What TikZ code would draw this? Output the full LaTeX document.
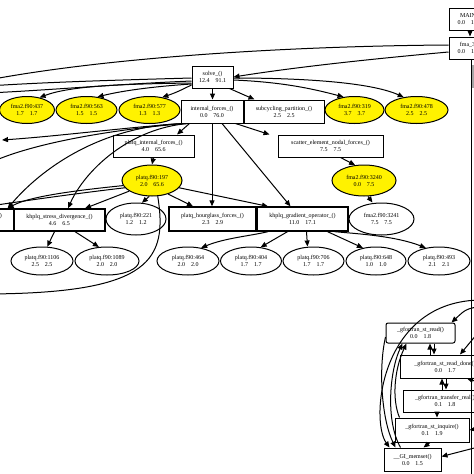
\documentclass[tikz,border=0pt]{standalone}
\usepackage{fontspec}
\setmainfont{Liberation Serif}
\usetikzlibrary{shapes.geometric, arrows.meta}

\begin{document}
\begin{tikzpicture}[
    x=1pt, y=-1pt,
    fn/.style={rectangle, draw=black, line width=1pt, fill=white, inner sep=0pt,
               minimum width=#1, minimum height=22pt, align=center,
               font=\fontsize{6}{7}\selectfont},
    hot/.style={ellipse, draw=black, line width=1pt, fill=yellow, inner sep=0pt,
               minimum width=#1, minimum height=27pt, align=center,
               font=\fontsize{6}{7}\selectfont},
    leaf/.style={ellipse, draw=black, line width=1pt, fill=white, inner sep=0pt,
               minimum width=#1, minimum height=28pt, align=center,
               font=\fontsize{6}{7}\selectfont},
    arr/.style={-{Triangle[length=6pt,width=5pt]}, line width=1pt},
]
\useasboundingbox (0,0) rectangle (474,474);
\clip (0,0) rectangle (474,474);

% Top: main program
\node[fn=44] (main) at (471, 19) {MAIN\_\_\\0.0\quad 100.0};
\node[fn=44] (fma3) at (471, 48) {fma\_3d()\\0.0\quad 100.0};
\fill[gray!70] (472, 65) rectangle (476, 88);

% Solver
\node[fn=41] (solve) at (212.5, 77) {solve\_()\\12.4\quad 91.1};

% Second row
\node[hot=55] (f437) at (27, 110) {fma2.f90:437\\1.7\quad 1.7};
\node[hot=61] (f563) at (86.5, 110) {fma2.f90:563\\1.5\quad 1.5};
\node[hot=61] (f577) at (149.5, 110) {fma2.f90:577\\1.3\quad 1.3};
\node[fn=62, minimum height=23pt] (intf) at (212, 111.5) {internal\_forces\_()\\0.0\quad 76.0};
\node[fn=80, minimum height=23pt] (subc) at (284, 111.5) {subcycling\_partition\_()\\2.5\quad 2.5};
\node[hot=59] (f319) at (354.5, 110) {fma2.f90:319\\3.7\quad 3.7};
\node[hot=63] (f478) at (416.5, 110) {fma2.f90:478\\2.5\quad 2.5};

% Third row
\node[fn=81] (pif) at (153.5, 146) {platq\_internal\_forces\_()\\4.0\quad 65.6};
\node[fn=105] (scat) at (330.5, 146) {scatter\_element\_nodal\_forces\_()\\7.5\quad 7.5};
\node[hot=60, minimum height=31pt] (p197) at (152, 180.5) {platq.f90:197\\2.0\quad 65.6};
\node[hot=64, minimum height=31pt] (f3240) at (364, 180.5) {fma2.f90:3240\\0.0\quad 7.5};

% Element kernels
\node[fn=86, line width=1.3pt] (lbox) at (-28, 220) {khplq\_internal\_forces\_()\\\strut};
\node[fn=91, line width=1.3pt] (khsd) at (59.5, 220) {khplq\_stress\_divergence\_()\\4.6\quad 6.5};
\node[leaf=60, minimum height=32pt] (p221) at (136, 219) {platq.f90:221\\1.2\quad 1.2};
\node[fn=87, minimum height=24pt, line width=1.3pt] (phg) at (212.5, 219) {platq\_hourglass\_forces\_()\\2.3\quad 2.9};
\node[fn=91, minimum height=24pt, line width=1.3pt] (kgo) at (302.5, 219) {khplq\_gradient\_operator\_()\\11.0\quad 17.1};
\node[leaf=65, minimum height=32pt] (f3241) at (381.5, 219) {fma2.f90:3241\\7.5\quad 7.5};

% Leaves
\node[leaf=62] (p1106) at (42, 261) {platq.f90:1106\\2.5\quad 2.5};
\node[leaf=64] (p1089) at (107, 261) {platq.f90:1089\\2.0\quad 2.0};
\node[leaf=62] (p464) at (188, 261) {platq.f90:464\\2.0\quad 2.0};
\node[leaf=61] (p404) at (251, 261) {platq.f90:404\\1.7\quad 1.7};
\node[leaf=61] (p706) at (313.5, 261) {platq.f90:706\\1.7\quad 1.7};
\node[leaf=60] (p648) at (376, 261) {platq.f90:648\\1.0\quad 1.0};
\node[leaf=62] (p493) at (439, 261) {platq.f90:493\\2.1\quad 2.1};

% I/O cluster
\node[fn=69, minimum height=20pt, rounded corners=2pt] (rd) at (420.5, 333) {\_gfortran\_st\_read()\\0.0\quad 1.8};
\node[fn=90, minimum height=23pt] (rdd) at (445, 366.5) {\_gfortran\_st\_read\_done()\\0.0\quad 1.7};
\node[fn=84] (tr) at (445, 401) {\_gfortran\_transfer\_real()\\0.1\quad 1.8};
\node[fn=74, minimum height=24pt] (inq) at (432, 430) {\_gfortran\_st\_inquire()\\0.1\quad 1.9};
\node[fn=57, minimum height=23pt] (mem) at (412.5, 459.5) {\_\_GI\_memset()\\0.0\quad 1.5};

% Free ends outside the frame
\coordinate (offA) at (-12, 80);
\coordinate (offB) at (-12, 86);
\coordinate (offB2) at (-12, 93);
\coordinate (offC) at (2, 140);
\coordinate (offD) at (-15, 165);
\coordinate (offE) at (-10, 206);
\coordinate (offF) at (-10, 294);
\coordinate (down) at (471, 490);
\coordinate (xR1) at (482, 306);
\coordinate (xR2) at (482, 300);
\coordinate (xR3) at (482, 446);
\coordinate (xR4) at (482, 428);
\coordinate (xR5) at (482, 328);
\coordinate (xR6) at (484, 384);

% === Calls from the top ===
\draw[arr] ([xshift=-1pt]main.south) -- ([xshift=-1pt]fma3.north);
\draw[arr] ([yshift=-4pt]fma3.west) .. controls (360,60) and (290,68) .. (solve.east);
\draw[arr] ([yshift=3pt]fma3.west) .. controls (300,46) and (120,56) .. (offA);
\draw[arr] (fma3.south) -- (down);

% === solve_() ===
\draw[arr] ([yshift=-1pt]solve.west) .. controls (120,80) and (50,82) .. (offB);
\draw[arr] ([yshift=-4pt]solve.west) .. controls (120,84) and (50,90) .. (offB2);
\draw[arr] ([yshift=-6pt]solve.west) .. controls (120,84) and (70,86) .. (f437.45);
\draw[arr] ([yshift=-7pt]solve.west) .. controls (160,86) and (125,90) .. (f563.50);
\draw[arr] ([yshift=-8pt]solve.west) .. controls (185,88) and (178,92) .. (f577.45);
\draw[arr] (solve.south) -- (solve.south |- intf.north);
\draw[arr] ([xshift=-4pt]solve.south east) -- ([xshift=11pt]subc.north west);
\draw[arr] ([yshift=-3pt]solve.east) .. controls (280,82) and (310,88) .. (f319.130);
\draw[arr] ([yshift=-1pt]solve.east) .. controls (300,78) and (370,82) .. (f478.135);

% === internal_forces_() ===
\draw[arr] ([xshift=2pt]intf.south west) .. controls (120,128) and (60,136) .. (offC);
\draw[arr] ([xshift=4pt]intf.south west) .. controls (130,128) and (40,140) .. (offD);
\draw[arr] ([xshift=6pt]intf.south west) .. controls (100,125) and (40,170) .. ([xshift=-8pt]lbox.north east);
\draw[arr] ([xshift=8pt]intf.south west) .. controls (130,128) and (85,170) .. ([xshift=8.5pt]khsd.north);
\draw[arr] ([xshift=9pt]intf.south west) -- ([xshift=23.5pt]pif.north);
\draw[arr] (intf.south) -- (intf.south |- phg.north);
\draw[arr] ([xshift=10pt]intf.south) -- ([xshift=-12pt]kgo.north);
\draw[arr] ([xshift=-8pt]intf.south east) -- ([xshift=-8pt]scat.north west);

\draw[arr] (pif.south) -- (p197.north);
\draw[arr] ([xshift=10pt]scat.south) -- (f3240.120);
\draw[arr] ([xshift=4pt]f3240.south) -- ([xshift=-9pt]f3241.north);

% === platq.f90:197 ===
\draw[arr] (p197.190) .. controls (80,190) and (30,196) .. ([xshift=-8pt]lbox.north east);
\draw[arr] (p197.195) .. controls (80,193) and (30,200) .. (offE);
\draw[arr] (p197.205) -- ([xshift=25.5pt]khsd.north);
\draw[arr] (p197.260) -- (p221.70);
\draw[arr] (p197.320) -- ([xshift=-19.5pt]phg.north);
\draw[arr] (p197.345) -- ([xshift=-34.5pt]kgo.north);
\draw[arr] (p197.290) .. controls (168,260) and (150,292) .. (offF);

% === kernels to leaves ===
\draw[arr] ([xshift=-5pt]khsd.south) -- (p1106.70);
\draw[arr] ([xshift=15.5pt]khsd.south) -- (p1089.120);
\draw[arr] ([xshift=-34.5pt]kgo.south) .. controls (250,236) and (225,238) .. (p464.45);
\draw[arr] ([xshift=-15pt]kgo.south) -- (p404.55);
\draw[arr] ([xshift=4pt]kgo.south) -- ([xshift=-6pt]p706.north);
\draw[arr] ([xshift=25pt]kgo.south) -- (p648.135);
\draw[arr] ([xshift=32pt]kgo.south) .. controls (360,234) and (395,236) .. (p493.135);

% === I/O cluster ===
\draw[arr] (xR1) .. controls (466,309) .. ([xshift=-4pt]rd.north east);
\draw[arr] (xR2) .. controls (380,300) and (370,420) .. ([xshift=6pt]mem.north west);
\draw[arr] ([yshift=-4pt]rd.west) .. controls (378,370) and (382,420) .. ([xshift=12pt]mem.north west);
\draw[arr] ([xshift=-12pt]mem.north) .. controls (385,420) and (390,370) .. ([xshift=-18pt]rd.south);
\draw[arr] ([xshift=5pt]inq.north west) .. controls (392,400) and (394,370) .. ([xshift=-14pt]rd.south);
\draw[arr] ([xshift=13.5pt]rd.south) -- ([xshift=-11pt]rdd.north);
\draw[arr] ([xshift=-15pt]rdd.north) -- ([xshift=9.5pt]rd.south);
\draw[arr] ([xshift=1pt]rdd.south) -- ([xshift=1pt]tr.north);
\draw[arr] ([xshift=-3pt]tr.north) -- ([xshift=-3pt]rdd.south);
\draw[arr] (xR5) -- ([xshift=15pt]rdd.north);
\draw[arr] (xR6) -- ([xshift=22pt]rdd.south);
\draw[arr] ([xshift=-8pt]tr.south) -- ([xshift=5pt]inq.north);
\draw[arr] (xR4) -- (inq.east);
\draw[arr] ([xshift=-2pt]inq.south) -- ([xshift=11pt]mem.north);
\draw[arr] (xR3) -- ([yshift=3pt]mem.east);

\end{tikzpicture}
\end{document}
